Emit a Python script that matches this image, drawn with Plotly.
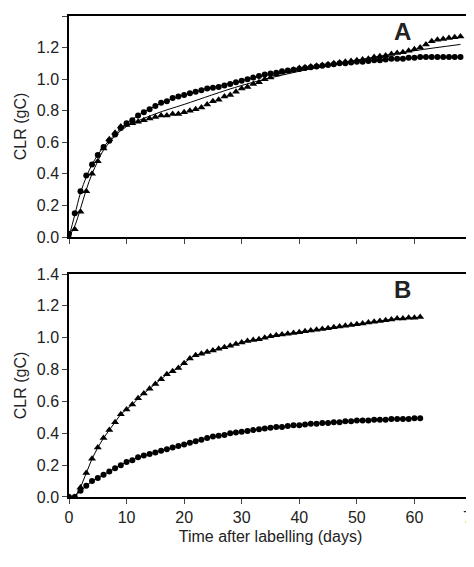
import plotly.graph_objects as go

days_a = list(range(69))
a_circles = [0.02, 0.15, 0.29, 0.39, 0.46, 0.52, 0.57, 0.61, 0.65, 0.69, 0.72, 0.74, 0.77, 0.79, 0.81, 0.83, 0.85, 0.86, 0.88, 0.89,
             0.90, 0.91, 0.92, 0.93, 0.94, 0.945, 0.95, 0.96, 0.97, 0.98, 0.99, 1.0, 1.01, 1.02, 1.03, 1.035, 1.04, 1.05, 1.055, 1.06,
             1.065, 1.07, 1.075, 1.08, 1.085, 1.09, 1.095, 1.10, 1.10, 1.105, 1.11, 1.11, 1.115, 1.12, 1.12, 1.125, 1.13, 1.13, 1.13, 1.135,
             1.135, 1.14, 1.14, 1.14, 1.14, 1.14, 1.14, 1.14, 1.14]
a_triangles = [0.0, 0.05, 0.16, 0.29, 0.40, 0.48, 0.56, 0.62, 0.66, 0.70, 0.71, 0.72, 0.73, 0.74, 0.75, 0.76, 0.77, 0.77, 0.78, 0.78,
               0.79, 0.80, 0.81, 0.82, 0.84, 0.86, 0.87, 0.89, 0.90, 0.92, 0.94, 0.95, 0.97, 0.98, 1.0, 1.01, 1.03, 1.04, 1.05, 1.06,
               1.07, 1.075, 1.08, 1.085, 1.09, 1.095, 1.10, 1.105, 1.11, 1.115, 1.12, 1.125, 1.13, 1.14, 1.145, 1.15, 1.16, 1.165, 1.17, 1.18,
               1.19, 1.20, 1.22, 1.24, 1.25, 1.255, 1.26, 1.265, 1.27]
fit_a_x = [0, 1, 2, 3, 4, 5, 6, 8, 10, 15, 20, 30, 40, 50, 60, 68]
fit_a_tri = [0.0, 0.07, 0.18, 0.30, 0.40, 0.48, 0.55, 0.64, 0.70, 0.78, 0.84, 0.96, 1.05, 1.12, 1.18, 1.22]
fit_a_cir = [0.0, 0.14, 0.28, 0.38, 0.46, 0.52, 0.57, 0.65, 0.72, 0.83, 0.90, 0.99, 1.065, 1.11, 1.135, 1.14]

days_b = list(range(62))
b_triangles = [0.0, 0.0, 0.06, 0.15, 0.24, 0.31, 0.37, 0.42, 0.47, 0.52, 0.55, 0.58, 0.62, 0.65, 0.68, 0.71, 0.74, 0.77, 0.79, 0.81,
               0.84, 0.87, 0.89, 0.90, 0.91, 0.92, 0.93, 0.94, 0.95, 0.96, 0.97, 0.98, 0.985, 0.99, 1.0, 1.01, 1.015, 1.02, 1.025, 1.03,
               1.035, 1.04, 1.045, 1.05, 1.055, 1.06, 1.065, 1.07, 1.075, 1.08, 1.085, 1.09, 1.095, 1.10, 1.105, 1.11, 1.115, 1.12, 1.12, 1.125,
               1.125, 1.13]
b_circles = [0.0, 0.0, 0.04, 0.07, 0.10, 0.12, 0.14, 0.16, 0.18, 0.20, 0.22, 0.23, 0.25, 0.26, 0.27, 0.28, 0.29, 0.30, 0.31, 0.32,
             0.33, 0.34, 0.35, 0.36, 0.37, 0.38, 0.385, 0.39, 0.40, 0.405, 0.41, 0.415, 0.42, 0.425, 0.43, 0.435, 0.44, 0.44, 0.445, 0.45,
             0.45, 0.455, 0.46, 0.46, 0.465, 0.465, 0.47, 0.47, 0.475, 0.475, 0.48, 0.48, 0.48, 0.485, 0.485, 0.485, 0.49, 0.49, 0.49, 0.49,
             0.495, 0.495]

yticks = [0.0, 0.2, 0.4, 0.6, 0.8, 1.0, 1.2, 1.4]
xticks = [0, 10, 20, 30, 40, 50, 60, 70]

fig = go.Figure()
line = dict(color="black", width=1)
tri = dict(symbol="triangle-up", size=7, color="black")
dot = dict(symbol="circle", size=6, color="black")

fig.add_trace(go.Scatter(x=fit_a_x, y=fit_a_tri, mode="lines", line=dict(color="black", width=1, shape="spline"), xaxis="x", yaxis="y"))
fig.add_trace(go.Scatter(x=fit_a_x, y=fit_a_cir, mode="lines", line=dict(color="black", width=1, shape="spline"), xaxis="x", yaxis="y"))
fig.add_trace(go.Scatter(x=days_a, y=a_triangles, mode="markers", marker=tri, xaxis="x", yaxis="y"))
fig.add_trace(go.Scatter(x=days_a, y=a_circles, mode="markers", marker=dot, xaxis="x", yaxis="y"))
fig.add_trace(go.Scatter(x=days_b, y=b_triangles, mode="lines+markers", line=line, marker=tri, xaxis="x2", yaxis="y2"))
fig.add_trace(go.Scatter(x=days_b, y=b_circles, mode="lines+markers", line=line, marker=dot, xaxis="x2", yaxis="y2"))

ax = dict(range=[0, 70], tickvals=xticks, ticks="outside", ticklen=5, showline=True, linecolor="black",
          linewidth=1.5, mirror=True, showgrid=False, zeroline=False, automargin=False,
          tickfont=dict(size=16, color="#222"))
ay = dict(range=[0, 1.4], tickvals=yticks, tickformat=".1f", ticks="outside", ticklen=5, showline=True,
          linecolor="black", linewidth=1.5, mirror=True, showgrid=False, zeroline=False, automargin=False,
          tickfont=dict(size=16, color="#222"))

fig.update_layout(
    width=474, height=567, showlegend=False,
    plot_bgcolor="white", paper_bgcolor="white",
    font=dict(family="Liberation Sans, Arial", color="#222"),
    margin=dict(l=61, r=10, t=8, b=78),
    xaxis=dict(ax, domain=[0, 1], anchor="y", showticklabels=False),
    yaxis=dict(ay, domain=[0.5405, 1], anchor="x",
               title=dict(text="CLR (gC)", font=dict(size=16), standoff=6)),
    xaxis2=dict(ax, domain=[0, 1], anchor="y2",
                title=dict(text="Time after labelling (days)", font=dict(size=16), standoff=6)),
    yaxis2=dict(ay, domain=[0, 0.4636], anchor="x2",
                title=dict(text="CLR (gC)", font=dict(size=16), standoff=6)),
    annotations=[
        dict(text="<b>A</b>", x=58, y=1.3, xref="x", yref="y", showarrow=False, font=dict(size=24, color="#222")),
        dict(text="<b>B</b>", x=58, y=1.3, xref="x2", yref="y2", showarrow=False, font=dict(size=24, color="#222")),
    ],
)

fig.write_html("out.html")
